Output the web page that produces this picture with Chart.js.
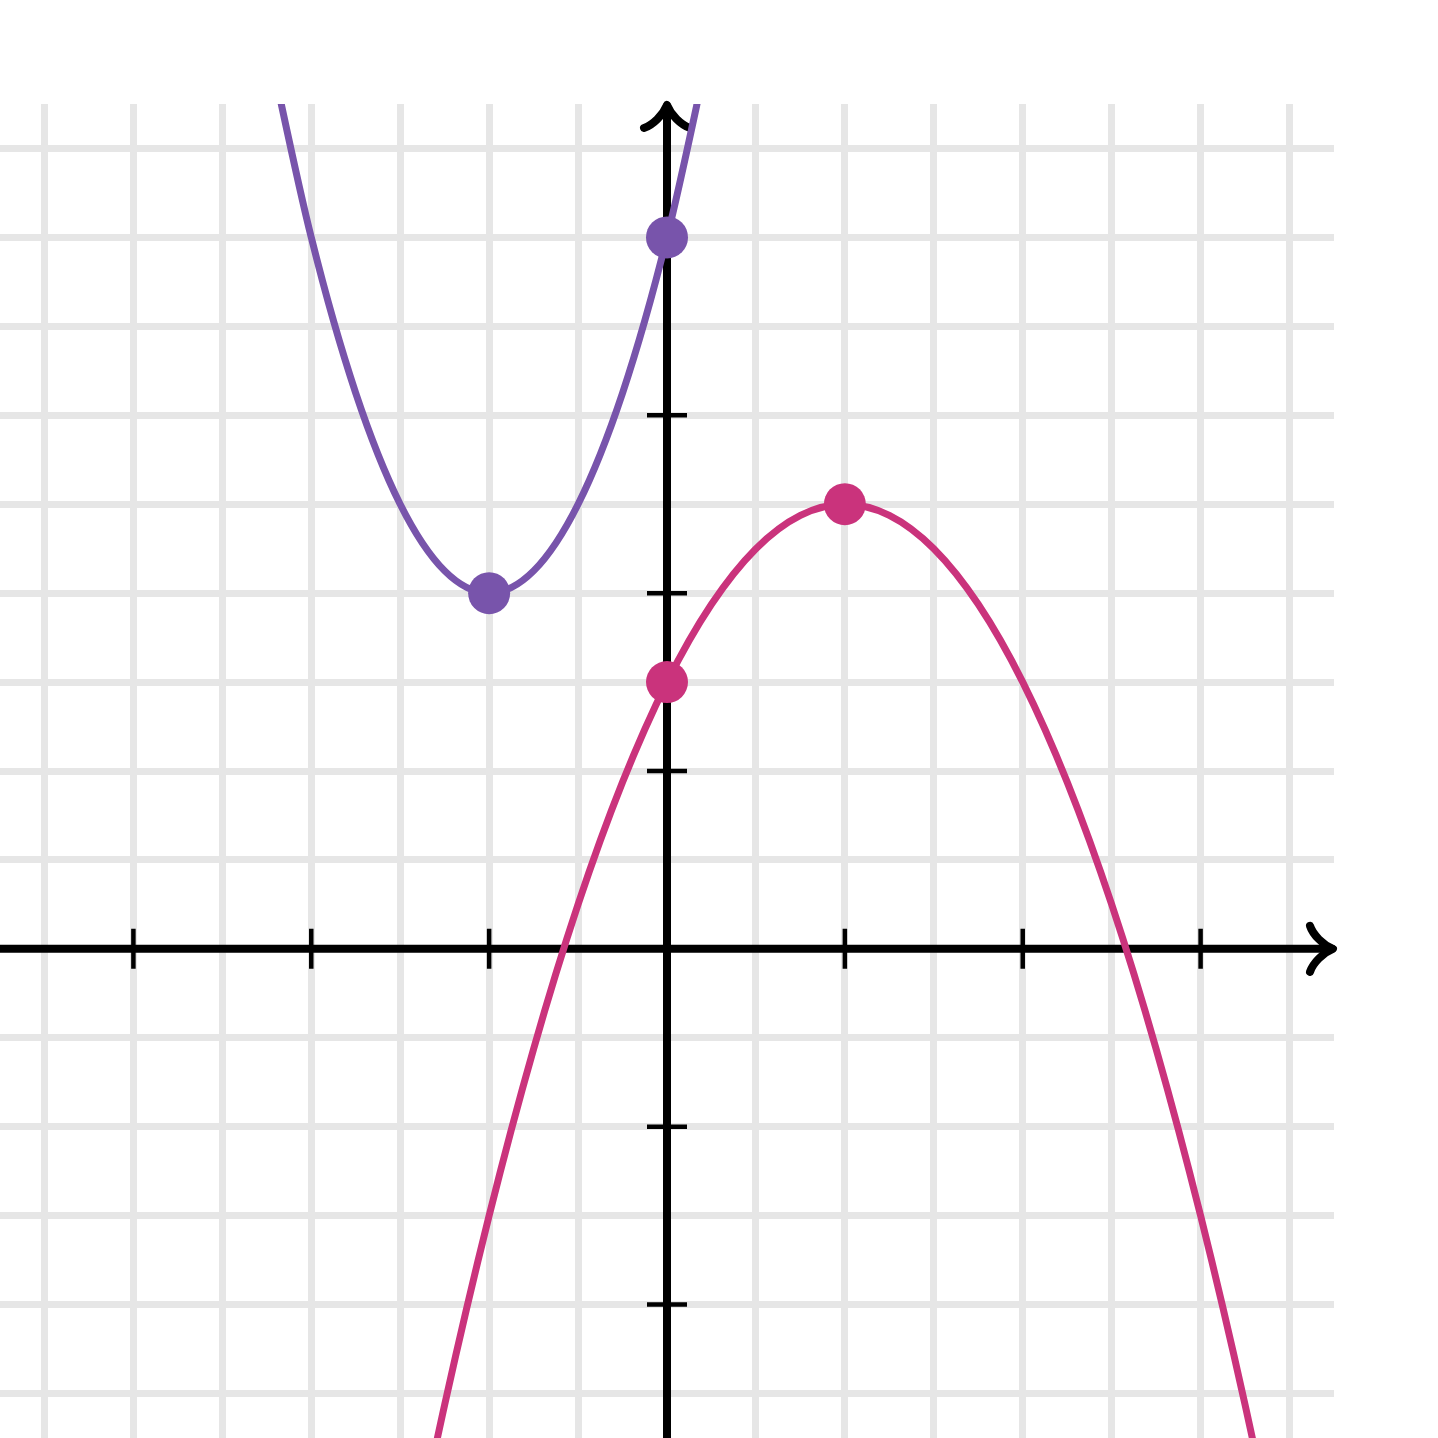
<!DOCTYPE html>
<html>
<head>
<meta charset="utf-8">
<script src="https://cdn.jsdelivr.net/npm/chart.js@4.4.1/dist/chart.umd.min.js"></script>
<style>
  html, body { margin: 0; padding: 0; background: #ffffff; }
  #grafico { display: block; }
</style>
</head>
<body>
<canvas id="grafico" width="1438" height="1438"></canvas>
<script>
// pontos
let roxoX = [-4.5, -4, -3.5, -3, -2.5, -2, -1.5, -1, -0.5, 0, 0.5];
let roxoY = [10.25, 8, 6.25, 5, 4.25, 4, 4.25, 5, 6.25, 8, 10.25];

let rosaX = [-3, -2.5, -2, -1.5, -1, -0.5, 0, 0.5, 1, 1.5, 2, 2.5, 3, 3.5, 4, 4.5, 5, 5.5, 6, 6.5, 7];
let rosaY = [-7.5, -5.125, -3, -1.125, 0.5, 1.875, 3, 3.875, 4.5, 4.875, 5, 4.875, 4.5, 3.875, 3, 1.875, 0.5, -1.125, -3, -5.125, -7.5];

// pontos destacados
let roxoDestaqueX = [-2, 0];
let roxoDestaqueY = [4, 8];
let rosaDestaqueX = [0, 2];
let rosaDestaqueY = [3, 5];

// grade e marcas dos eixos
let gradeX = [-7, -6, -5, -4, -3, -2, -1, 0, 1, 2, 3, 4, 5, 6, 7];
let gradeY = [-5, -4, -3, -2, -1, 0, 1, 2, 3, 4, 5, 6, 7, 8, 9];
let marcasX = [-6, -4, -2, 2, 4, 6];
let marcasY = [-4, -2, 2, 4, 6, 8];

let limitesX = [-7.5, 7.5];
let limitesY = [-5.5, 9.5];

const ROXO = "#7854ab";
const ROSA = "#ca337c";
const CINZA = "#e6e6e6";

function juntar(xs, ys) {
  let pontos = [];
  for (let i = 0; i < xs.length; i++) {
    pontos.push({ x: xs[i], y: ys[i] });
  }
  return pontos;
}

const eixos = {
  id: "eixos",
  beforeDatasetsDraw(chart) {
    const ctx = chart.ctx;
    const area = chart.chartArea;
    const sx = chart.scales.x;
    const sy = chart.scales.y;
    const x0 = sx.getPixelForValue(0);
    const y0 = sy.getPixelForValue(0);

    ctx.save();
    ctx.strokeStyle = "#000000";
    ctx.lineCap = "round";
    ctx.lineJoin = "round";

    // linhas dos eixos
    ctx.lineWidth = 8;
    ctx.beginPath();
    ctx.moveTo(area.left - 5, y0);
    ctx.lineTo(area.right - 2, y0);
    ctx.moveTo(x0, area.bottom + 5);
    ctx.lineTo(x0, area.top + 2);
    ctx.stroke();

    // marcas
    ctx.lineWidth = 4.5;
    ctx.lineCap = "butt";
    ctx.beginPath();
    for (let i = 0; i < marcasX.length; i++) {
      let px = sx.getPixelForValue(marcasX[i]);
      ctx.moveTo(px, y0 - 20);
      ctx.lineTo(px, y0 + 20);
    }
    for (let i = 0; i < marcasY.length; i++) {
      let py = sy.getPixelForValue(marcasY[i]);
      ctx.moveTo(x0 - 20, py);
      ctx.lineTo(x0 + 20, py);
    }
    ctx.stroke();

    // setas
    ctx.lineWidth = 8;
    ctx.lineCap = "round";
    let tx = area.right - 1;
    ctx.beginPath();
    ctx.moveTo(tx - 23, y0 - 23);
    ctx.bezierCurveTo(tx - 20, y0 - 14, tx - 10, y0 - 4, tx, y0);
    ctx.bezierCurveTo(tx - 10, y0 + 4, tx - 20, y0 + 14, tx - 23, y0 + 23);
    ctx.stroke();

    let ty = area.top + 1;
    ctx.beginPath();
    ctx.moveTo(x0 - 23, ty + 23);
    ctx.bezierCurveTo(x0 - 14, ty + 20, x0 - 4, ty + 10, x0, ty);
    ctx.bezierCurveTo(x0 + 4, ty + 10, x0 + 14, ty + 20, x0 + 23, ty + 23);
    ctx.stroke();

    ctx.restore();
  }
};

const ctx = document.getElementById("grafico");

new Chart(ctx, {
  type: "scatter",
  data: {
    datasets: [
      {
        label: "destaque roxo",
        data: juntar(roxoDestaqueX, roxoDestaqueY),
        backgroundColor: ROXO,
        borderWidth: 0,
        pointRadius: 21,
        showLine: false,
        order: 0,
        clip: false
      },
      {
        label: "destaque rosa",
        data: juntar(rosaDestaqueX, rosaDestaqueY),
        backgroundColor: ROSA,
        borderWidth: 0,
        pointRadius: 21,
        showLine: false,
        order: 0,
        clip: false
      },
      {
        label: "parabola roxa",
        data: juntar(roxoX, roxoY),
        borderColor: ROXO,
        borderWidth: 7,
        pointRadius: 0,
        showLine: true,
        cubicInterpolationMode: "monotone",
        order: 1,
        clip: 0
      },
      {
        label: "parabola rosa",
        data: juntar(rosaX, rosaY),
        borderColor: ROSA,
        borderWidth: 7,
        pointRadius: 0,
        showLine: true,
        cubicInterpolationMode: "monotone",
        order: 1,
        clip: 0
      }
    ]
  },
  options: {
    responsive: false,
    animation: false,
    devicePixelRatio: 1,
    layout: {
      autoPadding: false,
      padding: { top: 104, right: 104, left: 0, bottom: 0 }
    },
    plugins: {
      legend: { display: false },
      tooltip: { enabled: false }
    },
    scales: {
      x: {
        type: "linear",
        min: limitesX[0],
        max: limitesX[1],
        afterBuildTicks: function (eixo) {
          eixo.ticks = gradeX.map(v => ({ value: v }));
        },
        ticks: { display: false },
        border: { display: false },
        grid: { color: CINZA, lineWidth: 7, drawTicks: false }
      },
      y: {
        type: "linear",
        min: limitesY[0],
        max: limitesY[1],
        afterBuildTicks: function (eixo) {
          eixo.ticks = gradeY.map(v => ({ value: v }));
        },
        ticks: { display: false },
        border: { display: false },
        grid: { color: CINZA, lineWidth: 7, drawTicks: false }
      }
    }
  },
  plugins: [eixos]
});
</script>
</body>
</html>
